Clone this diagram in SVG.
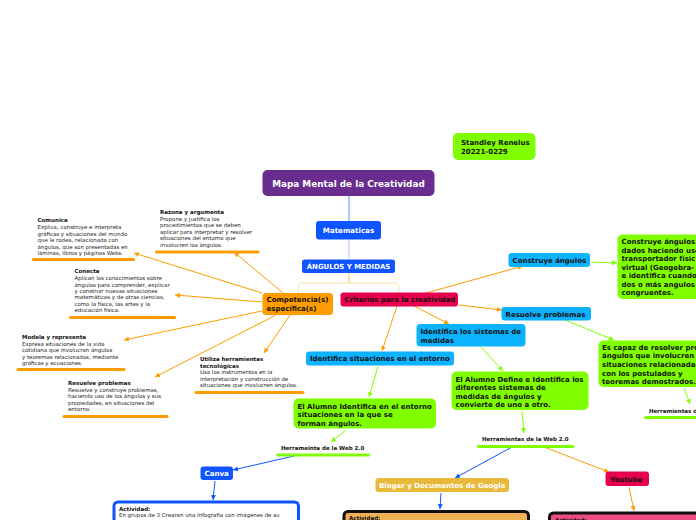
<svg xmlns="http://www.w3.org/2000/svg" width="696" height="520" viewBox="0 0 696 520">
<style>
text{font-family:"DejaVu Sans",Verdana,sans-serif}
.b{font-weight:bold;font-size:7px;fill:#111}
.w{font-weight:bold;fill:#fff}
.h{font-weight:bold;font-size:5.5px;fill:#111}
.s{font-size:5.45px;fill:#222}
.o{stroke:#ff9c00;stroke-width:1;fill:none}
.g{stroke:#80ff00;stroke-width:1;fill:none}
.u{stroke:#0f55ff;stroke-width:1;fill:none}
.uo{stroke:#ff9c00;stroke-width:3;stroke-linecap:round}
.ug{stroke:#80ff00;stroke-width:3;stroke-linecap:round}
</style>
<defs>
<marker id="ao" markerWidth="6" markerHeight="6" refX="5" refY="2.5" orient="auto"><path d="M0 0L5 2.5L0 5z" fill="#ff9c00"/></marker>
<marker id="ag" markerWidth="6" markerHeight="6" refX="5" refY="2.5" orient="auto"><path d="M0 0L5 2.5L0 5z" fill="#80ff00"/></marker>
<marker id="au" markerWidth="6" markerHeight="6" refX="5" refY="2.5" orient="auto"><path d="M0 0L5 2.5L0 5z" fill="#0f55ff"/></marker>
</defs>
<g id="connectors">
<path d="M349 195V221" stroke="#5b93ff" stroke-width="1" fill="none"/>
<path d="M349 239V259" stroke="#a9c4ff" stroke-width="1" fill="none"/>
<path d="M349 273V283" class="o" stroke-opacity=".7"/>
<path d="M298 293V288Q298 283 303 283H394Q399 283 399 288V293" fill="none" stroke="#ffdfae" stroke-width="1"/>
<path class="o" marker-end="url(#ao)" d="M283 293L234 252"/>
<path class="o" marker-end="url(#ao)" d="M262 293L134 253"/>
<path class="o" marker-end="url(#ao)" d="M262 302L175 295"/>
<path class="o" marker-end="url(#ao)" d="M262 311L124 340"/>
<path class="o" marker-end="url(#ao)" d="M276 315L155 377"/>
<path class="o" marker-end="url(#ao)" d="M290 315L264 353"/>
<path class="o" marker-end="url(#ao)" d="M426 293L523 266"/>
<path class="o" marker-end="url(#ao)" d="M459 305L502 310"/>
<path class="o" marker-end="url(#ao)" d="M397 306L382 351"/>
<path class="o" marker-end="url(#ao)" d="M414 306L449 324"/>
<path class="g" marker-end="url(#ag)" d="M591 262L617 263"/>
<path class="g" marker-end="url(#ag)" d="M565 320L614 340"/>
<path class="g" marker-end="url(#ag)" d="M684 388L690 404"/>
<path class="g" marker-end="url(#ag)" d="M481 347L503 371"/>
<path class="g" marker-end="url(#ag)" d="M378 366L369 397"/>
<path class="g" marker-end="url(#ag)" d="M346 430L331 442"/>
<path class="g" marker-end="url(#ag)" d="M522 411L524 433"/>
<path class="u" marker-end="url(#au)" d="M294 456L233 470"/>
<path class="u" marker-end="url(#au)" d="M215 481L213 500"/>
<path class="u" marker-end="url(#au)" d="M512 447L455 478"/>
<path class="u" marker-end="url(#au)" d="M441 493L440 509"/>
<path class="o" marker-end="url(#ao)" d="M544 447L609 472"/>
<path class="o" marker-end="url(#ao)" d="M629 487L634 511"/>
</g>
<g id="main"><rect x="262.500" y="170" width="172" height="26" rx="5" fill="#682d8e"/><text x="348.500" y="186.500" class="w" font-size="8.850" text-anchor="middle">Mapa Mental de la Creatividad</text></g>
<g id="author"><rect x="453" y="133" width="82.500" height="27" rx="5" fill="#80ff00"/><text class="b" x="461" y="145">Standley Renelus</text><text class="b" x="461" y="154">20221-0229</text></g>
<g id="matematicas"><rect x="316" y="221" width="65" height="18.500" rx="3" fill="#0f55ff"/><text x="348.500" y="233" class="w" font-size="7.100" text-anchor="middle">Matematicas</text></g>
<g id="angulos"><rect x="302" y="259.500" width="93" height="13.500" rx="2.500" fill="#0f55ff"/><text x="348.500" y="269" class="w" font-size="6.950" text-anchor="middle">ÁNGULOS Y MEDIDAS</text></g>
<g id="competencia"><rect x="262.500" y="293" width="70.500" height="22" rx="3.500" fill="#ff9c00"/><text class="b" x="266.500" y="302">Competencia(s)</text><text class="b" x="266.500" y="311">específica(s)</text></g>
<g id="criterios"><rect x="340.500" y="292.500" width="117.500" height="14" rx="3" fill="#e6004f"/><text class="b" x="344.500" y="302">Criterios para la creatividad</text></g>
<g id="construye"><rect x="508.500" y="253" width="81.500" height="14" rx="3" fill="#0db2ff"/><text class="b" x="512.500" y="263">Construye ángulos</text></g>
<g id="construye-detalle"><rect x="617.500" y="234.500" width="100" height="64.500" rx="5" fill="#80ff00"/><text class="b"><tspan x="621.500" y="244">Construye ángulos</tspan><tspan x="621.500" y="252.500">dados haciendo uso</tspan><tspan x="621.500" y="261">transportador físic</tspan><tspan x="621.500" y="269.500">virtual (Geogebra-</tspan><tspan x="621.500" y="278">e identifica cuando</tspan><tspan x="621.500" y="286.500">dos o más angulos</tspan><tspan x="621.500" y="295">congruentes.</tspan></text></g>
<g id="resuelve"><rect x="501.500" y="307" width="89.500" height="13.500" rx="3" fill="#0db2ff"/><text class="b" x="505.500" y="316.500">Resuelve problemas</text></g>
<g id="es-capaz"><rect x="598.500" y="340.500" width="120" height="46.500" rx="5" fill="#80ff00"/><text class="b"><tspan x="602" y="349.500">Es capaz de resolver pro</tspan><tspan x="602" y="358">ángulos que involucren</tspan><tspan x="602" y="366.500">situaciones relacionadas</tspan><tspan x="602" y="375.500">con los postulados y</tspan><tspan x="602" y="383.500">teoremas demostrados.</tspan></text></g>
<g id="herramientas-der"><text class="h" x="649" y="413">Herramientas d</text><path class="ug" d="M645.500 417.500H720"/></g>
<g id="sistemas"><rect x="416.500" y="324" width="109" height="22.500" rx="4" fill="#0db2ff"/><text class="b"><tspan x="420.500" y="334">Identifica los sistemas de</tspan><tspan x="420.500" y="342.500">medidas</tspan></text></g>
<g id="situaciones"><rect x="306" y="351.500" width="148" height="14" rx="3" fill="#0db2ff"/><text class="b" x="310" y="361">Identifica situaciones en el entorno</text></g>
<g id="alumno-identifica"><rect x="293.500" y="398.500" width="142.500" height="30" rx="5" fill="#80ff00"/><text class="b"><tspan x="297.500" y="408.500">El Alumno Identifica en el entorno</tspan><tspan x="297.500" y="416.500">situaciones en la que se</tspan><tspan x="297.500" y="425.500">forman ángulos.</tspan></text></g>
<g id="alumno-define"><rect x="451.500" y="371.500" width="137" height="38.500" rx="5" fill="#80ff00"/><text class="b"><tspan x="455.500" y="381.500">El Alumno  Define e Identifica los</tspan><tspan x="455.500" y="389.500">diferentes sistemas de</tspan><tspan x="455.500" y="398.500">medidas de ángulos y</tspan><tspan x="455.500" y="406.500">convierte de uno a otro.</tspan></text></g>
<g id="herramienta-izq"><text class="h" x="281" y="450">Herrameinta de la Web 2.0</text><path class="ug" d="M277.500 455H368.500"/></g>
<g id="herramientas-centro"><text class="h" x="482" y="441">Herramientas de la Web 2.0</text><path class="ug" d="M478.500 446.500H573"/></g>
<g id="canva"><rect x="200.500" y="466.500" width="32.500" height="13.500" rx="3" fill="#0f55ff"/><text x="216.700" y="476" class="w" font-size="7.100" text-anchor="middle">Canva</text></g>
<g id="actividad-canva"><rect x="114" y="502" width="184.500" height="40" rx="4" fill="#fff" stroke="#0f55ff" stroke-width="3"/><text class="h" x="119" y="511">Actividad:</text><text class="s" x="119" y="517">En grupos de 3 Crearan una Infografía con imágenes de su</text></g>
<g id="bloger"><rect x="375.500" y="478" width="133.500" height="14" rx="3" fill="#e9b93c"/><text x="442.200" y="487.500" class="w" font-size="7" text-anchor="middle">Bloger y Documentos de Google</text></g>
<g id="actividad-bloger"><rect x="344" y="511.500" width="184.500" height="30" rx="4" fill="#f0b056" stroke="#111" stroke-width="3"/><text class="h" x="349" y="520">Actividad:</text></g>
<g id="youtube"><rect x="605.500" y="471.500" width="43.500" height="14.500" rx="3" fill="#e6004f"/><text class="b" x="610" y="481.500">Youtube</text></g>
<g id="actividad-youtube"><rect x="549.500" y="513" width="184" height="30" rx="4" fill="#ee4d82" stroke="#111" stroke-width="3"/><text class="h" x="555" y="522">Actividad:</text></g>
<g id="comunica"><text class="h" x="37.500" y="222">Comunica</text><text class="s"><tspan x="37.500" y="229">Explica, construye e interpreta</tspan><tspan x="37.500" y="235.500">gráficas y situaciones del mundo</tspan><tspan x="37.500" y="242">que le rodea, relacionada con</tspan><tspan x="37.500" y="248.500">ángulos, que son presentadas en</tspan><tspan x="37.500" y="255">láminas, libros y páginas Webs.</tspan></text><path class="uo" d="M33.500 259.500H133.500"/></g>
<g id="razona"><text class="h" x="160" y="214">Razona y argumenta</text><text class="s"><tspan x="160" y="221">Propone y justifica los</tspan><tspan x="160" y="227">procedimientos que se deben</tspan><tspan x="160" y="233.500">aplicar para interpretar y resolver</tspan><tspan x="160" y="240">situaciones del entorno que</tspan><tspan x="160" y="246.500">involucren los ángulos.</tspan></text><path class="uo" d="M156.500 252H258"/></g>
<g id="conecta"><text class="h" x="74.500" y="273">Conecta</text><text class="s"><tspan x="74.500" y="280">Aplican los conocimientos sobre</tspan><tspan x="74.500" y="286.500">ángulos para comprender, explicar</tspan><tspan x="74.500" y="293">y construir nuevas situaciones</tspan><tspan x="74.500" y="299">matemáticas y de otras ciencias,</tspan><tspan x="74.500" y="305.500">como la física, las artes y la</tspan><tspan x="74.500" y="312">educación física.</tspan></text><path class="uo" d="M70.500 317.500H174.500"/></g>
<g id="modela"><text class="h" x="22" y="339">Modela y representa</text><text class="s"><tspan x="22" y="345.500">Expresa situaciones de la vida</tspan><tspan x="22" y="352">cotidiana que involucran ángulos</tspan><tspan x="22" y="358.500">y teoremas relacionados,  mediante</tspan><tspan x="22" y="365">gráficas y ecuaciones.</tspan></text><path class="uo" d="M18 369.500H124"/></g>
<g id="resuelve-comp"><text class="h" x="68" y="385">Resuelve problemas</text><text class="s"><tspan x="68" y="391.500">Resuelve y construye problemas,</tspan><tspan x="68" y="398">haciendo uso de los ángulos y sus</tspan><tspan x="68" y="404.500">propiedades, en situaciones del</tspan><tspan x="68" y="411">entorno.</tspan></text><path class="uo" d="M64 416.500H167"/></g>
<g id="utiliza"><text class="h"><tspan x="200" y="361">Utiliza herramientas</tspan><tspan x="200" y="368">tecnológicas</tspan></text><text class="s"><tspan x="200" y="374">Usa los instrumentos en la</tspan><tspan x="200" y="380.500">interpretación y construcción de</tspan><tspan x="200" y="387">situaciones que involucren ángulos.</tspan></text><path class="uo" d="M196 392.500H303"/></g>
</svg>
